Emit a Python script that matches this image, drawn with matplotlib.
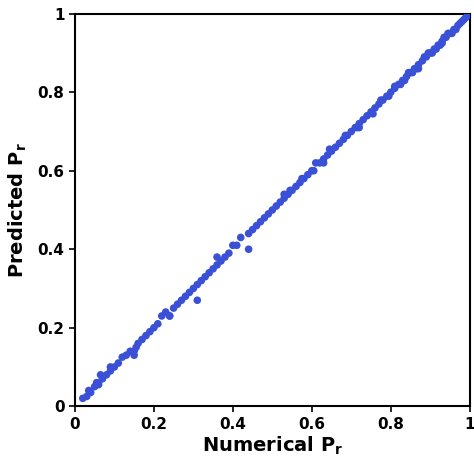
import matplotlib
matplotlib.use("Agg")
import matplotlib.pyplot as plt

# values (numerical vs predicted Pr)
numerical = [0.02, 0.03, 0.035, 0.04, 0.05, 0.055, 0.06, 0.065, 0.07, 0.08, 0.09, 0.10,
             0.11, 0.12, 0.13, 0.14, 0.15, 0.155, 0.16, 0.17, 0.18, 0.19, 0.20, 0.21,
             0.22, 0.23, 0.24, 0.25, 0.26, 0.27, 0.28, 0.29, 0.30, 0.31, 0.32, 0.33,
             0.34, 0.35, 0.36, 0.37, 0.38, 0.39, 0.40, 0.41, 0.42, 0.44, 0.45, 0.46,
             0.47, 0.48, 0.49, 0.50, 0.51, 0.52, 0.53, 0.54, 0.55, 0.56, 0.57, 0.58,
             0.59, 0.60, 0.61, 0.62, 0.63, 0.64, 0.65, 0.66, 0.67, 0.68, 0.69, 0.70,
             0.71, 0.72, 0.73, 0.74, 0.75, 0.76, 0.77, 0.78, 0.79, 0.80, 0.81, 0.82,
             0.83, 0.84, 0.85, 0.86, 0.87, 0.88, 0.89, 0.90, 0.91, 0.92, 0.93, 0.94,
             0.95, 0.96, 0.97, 0.98, 0.99, 0.995,
             0.06, 0.09, 0.15, 0.24, 0.31, 0.44, 0.36, 0.53, 0.63, 0.72, 0.81, 0.87,
             0.93, 0.965, 0.985, 0.645, 0.755, 0.835, 0.905, 0.945,
             0.685, 0.715, 0.775, 0.795, 0.825, 0.845, 0.865, 0.885, 0.915, 0.935,
             0.955, 0.975, 0.575, 0.605, 0.545, 0.925, 0.895, 0.855]
predicted = [0.02, 0.025, 0.04, 0.035, 0.05, 0.06, 0.055, 0.08, 0.07, 0.08, 0.09, 0.10,
             0.11, 0.125, 0.13, 0.14, 0.13, 0.15, 0.16, 0.17, 0.18, 0.19, 0.20, 0.21,
             0.23, 0.24, 0.23, 0.25, 0.26, 0.27, 0.28, 0.29, 0.30, 0.31, 0.32, 0.33,
             0.34, 0.35, 0.36, 0.37, 0.38, 0.39, 0.41, 0.41, 0.43, 0.44, 0.45, 0.46,
             0.47, 0.48, 0.49, 0.50, 0.51, 0.52, 0.53, 0.54, 0.55, 0.56, 0.57, 0.58,
             0.59, 0.60, 0.62, 0.62, 0.63, 0.64, 0.65, 0.66, 0.67, 0.68, 0.69, 0.70,
             0.71, 0.72, 0.73, 0.74, 0.75, 0.76, 0.77, 0.78, 0.79, 0.80, 0.81, 0.82,
             0.83, 0.84, 0.85, 0.86, 0.87, 0.88, 0.89, 0.90, 0.91, 0.92, 0.93, 0.94,
             0.95, 0.96, 0.97, 0.98, 0.99, 0.995,
             0.06, 0.10, 0.14, 0.23, 0.27, 0.40, 0.38, 0.54, 0.62, 0.71, 0.815, 0.86,
             0.925, 0.96, 0.985, 0.655, 0.745, 0.83, 0.90, 0.95,
             0.69, 0.71, 0.78, 0.79, 0.82, 0.85, 0.86, 0.89, 0.91, 0.94,
             0.95, 0.975, 0.58, 0.60, 0.55, 0.92, 0.90, 0.85]

fig = plt.figure(figsize=(4.74, 4.74), dpi=100)
ax = fig.add_axes([0.158, 0.143, 0.833, 0.828])
ax.scatter(numerical, predicted, s=30, color='#3a50d6', edgecolors='none', zorder=3)
ax.set_xlim(0, 1)
ax.set_ylim(0, 1)
ticks = [0, 0.2, 0.4, 0.6, 0.8, 1]
labels = ['0', '0.2', '0.4', '0.6', '0.8', '1']
ax.set_xticks(ticks)
ax.set_xticklabels(labels, fontweight='bold', fontsize=11)
ax.set_yticks(ticks)
ax.set_yticklabels(labels, fontweight='bold', fontsize=11)
ax.tick_params(direction='out', length=4, width=1.2)
for s in ax.spines.values():
    s.set_linewidth(1.5)
ax.set_xlabel(r'Numerical P$_\mathbf{r}$', fontweight='bold', fontsize=14, labelpad=2)
ax.set_ylabel(r'Predicted P$_\mathbf{r}$', fontweight='bold', fontsize=14, labelpad=6)

fig.savefig("out.png", dpi=100)
